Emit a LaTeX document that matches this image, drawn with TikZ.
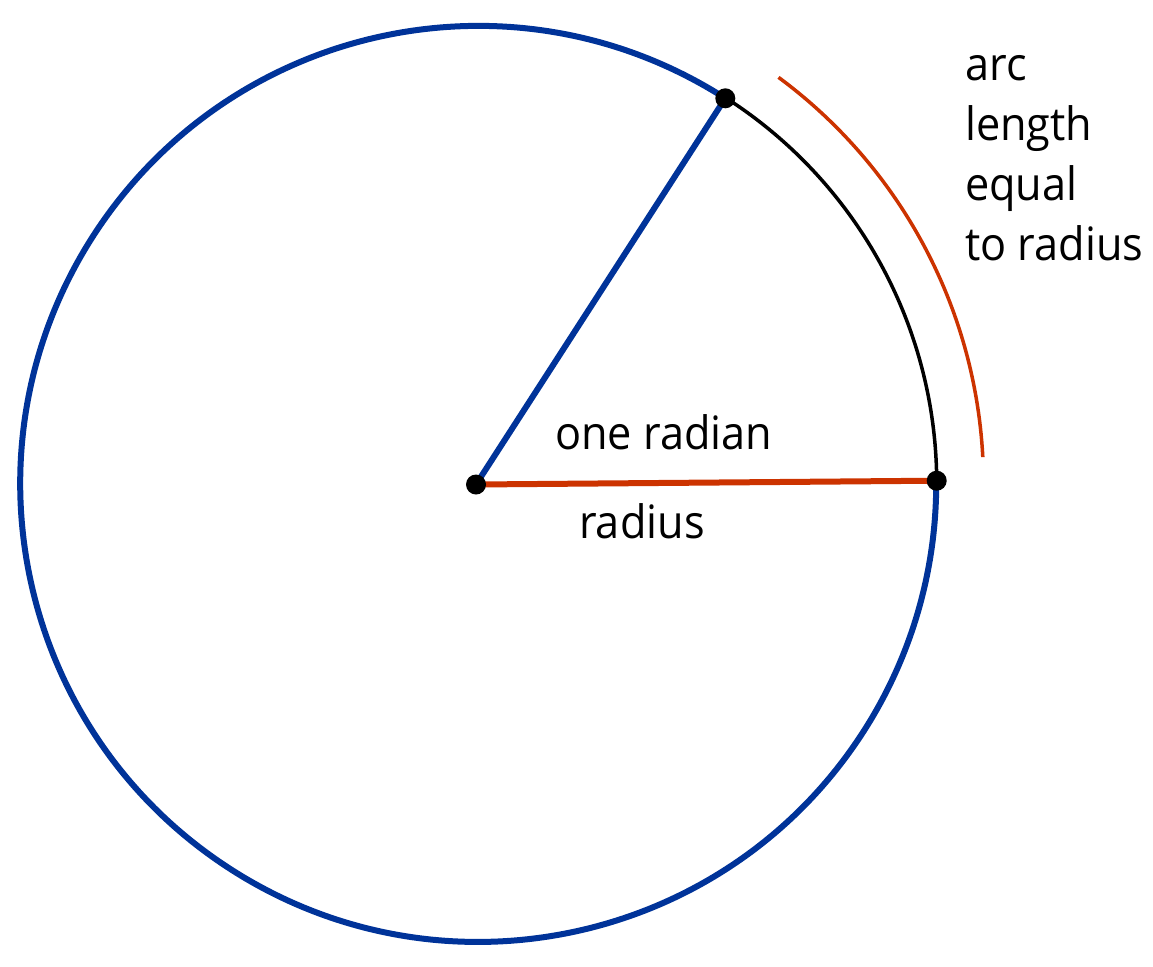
\documentclass[tikz,border=0pt]{standalone}
\usepackage{fontspec}
\setmainfont{Open Sans}[FakeStretch=0.94]
\definecolor{cblue}{RGB}{0,51,153}
\definecolor{cred}{RGB}{204,51,0}
\begin{document}
\begin{tikzpicture}[x=1pt,y=-1pt,
  lbl/.style={inner sep=0pt, anchor=base west, font=\fontsize{46}{60}\selectfont},
  dotnode/.style={circle, fill=black, inner sep=0pt, minimum size=20pt},
  thick blue/.style={cblue, line width=6pt},
  thick red/.style={cred, line width=6pt},
  thin line/.style={line width=3.5pt}]
\useasboundingbox (0,0) rectangle (1153,966);
\coordinate (O) at (478.5,483.5);
\coordinate (c) at (476,484.5);
\coordinate (p) at (725.3,98.3);
\coordinate (q) at (936.7,480.7);
\coordinate (r1) at (982.8,457.1);
% circle
\draw[thick blue] (p) arc[start angle=-57.35, end angle=-360.35, radius=458];
\draw[thin line, black] (q) arc[start angle=-0.35, end angle=-57.35, radius=458];
% radii
\draw[thick blue] (c) -- (p);
\draw[thick red] (c) -- (q);
% outer arc
\draw[thin line, cred] (r1) arc[start angle=-3, end angle=-53.55, radius=505];
% dots
\node[dotnode] (dc) at (c) {};
\node[dotnode] (dp) at (p) {};
\node[dotnode] (dq) at (q) {};
% labels
\node[lbl] (t1) at (555,449) {one radian};
\node[lbl] (t2) at (579,538) {radius};
\node[lbl, align=left] (t3) at (965,260) {arc\\length\\equal\\to radius};
\end{tikzpicture}
\end{document}
